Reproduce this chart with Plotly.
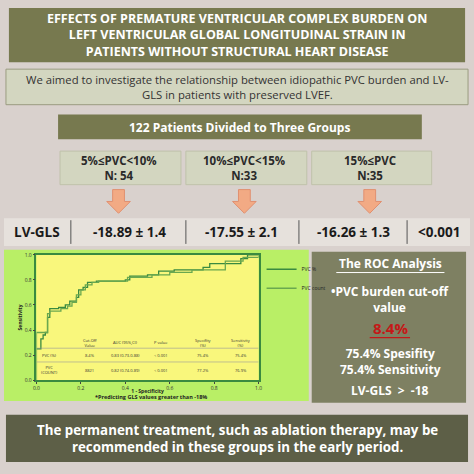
import plotly.graph_objects as go

W = H = 474

# ROC curve data
fpr_pct = [0, 0.02, 0.02, 0.03, 0.04, 0.05, 0.06, 0.09, 0.10, 0.13, 0.15, 0.18, 0.19, 0.21, 0.23, 0.27,
           0.37, 0.40, 0.42, 0.50, 0.55, 0.62, 0.75, 0.78, 0.92, 0.95, 1.0]
tpr_pct = [0.25, 0.25, 0.33, 0.36, 0.38, 0.50, 0.57, 0.57, 0.58, 0.60, 0.63, 0.66, 0.72, 0.74, 0.78, 0.79,
           0.79, 0.80, 0.83, 0.84, 0.87, 0.88, 0.90, 0.93, 0.97, 1.0, 1.0]
fpr_cnt = [0, 0.0, 0.04, 0.05, 0.05, 0.06, 0.08, 0.11, 0.14, 0.16, 0.18, 0.20, 0.22, 0.25, 0.28,
           0.38, 0.41, 0.45, 0.52, 0.60, 0.70, 0.76, 0.85, 0.93, 1.0]
tpr_cnt = [0.0, 0.38, 0.38, 0.45, 0.53, 0.55, 0.55, 0.57, 0.59, 0.62, 0.68, 0.72, 0.76, 0.78, 0.79,
           0.79, 0.82, 0.82, 0.84, 0.86, 0.88, 0.88, 0.95, 0.98, 1.0]

groups = ["5%≤PVC&lt;10%<br>N: 54", "10%≤PVC&lt;15%<br>N:33", "15%≤PVC<br>N:35"]
gls_values = ["-18.89 ± 1.4", "-17.55 ± 2.1", "-16.26 ± 1.3", "&lt;0.001"]

table_cols = ["Cut-Off<br>Value", "AUC (95%,CI)", "P value", "Specifity<br>(%)", "Sensitivity<br>(%)"]
table_rows = [["PVC (%)", "8.4%", "0.83 (0.73-0.88)", "&lt; 0.001", "75.4%", "75.4%"],
              ["PVC<br>(COUNT)", "8821", "0.82 (0.74-0.89)", "&lt; 0.001", "77.2%", "76.9%"]]

OLIVE = "#77794f"
LIGHT = "#d3d6c0"
BG = "#d9d1cd"
FONT = "Open Sans"

def px(x):
    return x / W

def py(y):
    return 1 - y / H

fig = go.Figure()
shapes = []

def box(x0, y0, x1, y1, fill, line=None, lw=0):
    shapes.append(dict(type="rect", xref="paper", yref="paper", x0=px(x0), x1=px(x1), y0=py(y1), y1=py(y0),
                       fillcolor=fill, line=dict(color=line or fill, width=lw), layer="below"))

def hline(x0, x1, y, color, w=1):
    shapes.append(dict(type="line", xref="paper", yref="paper", x0=px(x0), x1=px(x1), y0=py(y), y1=py(y),
                       line=dict(color=color, width=w)))

def text(x, y, s, size, color="white", bold=True):
    fig.add_annotation(xref="paper", yref="paper", x=px(x), y=py(y), text=f"<b>{s}</b>" if bold else s,
                       showarrow=False, font=dict(size=size, color=color, family=FONT), xanchor="center",
                       yanchor="middle")

# title
box(5, 5, 469, 60, OLIVE)
text(237, 32, "EFFECTS OF PREMATURE VENTRICULAR COMPLEX BURDEN ON<br>LEFT VENTRICULAR GLOBAL LONGITUDINAL STRAIN IN<br>PATIENTS WITHOUT STRUCTURAL HEART DISEASE", 12.5)
# aim
box(2, 67, 472, 103, LIGHT, "#9a9c80", 1)
text(237, 85, "We aimed to investigate the relationship between idiopathic PVC burden and LV-<br>GLS in patients with preserved LVEF.", 11.3, "#333333", bold=False)
# 122 patients
box(55, 113, 425, 138, OLIVE)
text(240, 126, "122 Patients Divided to Three Groups", 12)
# groups + arrows
gx = [(57, 180), (185, 308), (313, 435)]
for (a, b), g in zip(gx, groups):
    box(a, 150, b, 184, LIGHT, "#bfc2aa", 1)
    c = (a + b) / 2 - 2
    text(c, 167, g, 11.5, "#2a2a2a")
    shapes.append(dict(type="path", xref="paper", yref="paper", fillcolor="#f2aa84",
                       line=dict(color="#e09070", width=1),
                       path=f"M {px(c-6)} {py(189)} L {px(c+6)} {py(189)} L {px(c+6)} {py(201)} L {px(c+12)} {py(201)} "
                            f"L {px(c)} {py(213)} L {px(c-12)} {py(201)} L {px(c-6)} {py(201)} Z"))
# LV-GLS row
box(0, 218, 474, 246, "#e6e1dc")
text(34, 232, "LV-GLS", 13.5, "#1a1a1a")
for xs in [68, 185, 300, 410]:
    shapes.append(dict(type="line", xref="paper", yref="paper", x0=px(xs), x1=px(xs), y0=py(220), y1=py(244),
                       line=dict(color="#555555", width=1)))
for xc, v in zip([128, 242, 355, 442], gls_values):
    text(xc, 232, v, 13.5, "#1a1a1a")
# ROC panel
box(0, 250, 310, 403, "#b9ef66")
box(33, 255, 259, 382, "#f9f77c")
box(313, 252, 470, 405, "#7e8062")
text(393, 264, "The ROC Analysis", 12)
hline(338, 448, 273, "white", 1)
text(393, 300, "•PVC burden cut-off<br>value", 12)
text(393, 329, "8.4%", 15, "#c41818")
hline(372, 413, 339, "#c41818", 1.2)
text(393, 363, "75.4% Spesifity<br>75.4% Sensitivity", 12)
text(393, 392, "LV-GLS  >  -18", 12)
# conclusion
box(2, 417, 472, 465, "#5d5f47")
text(237, 441, "The permanent treatment, such as ablation therapy, may be<br>recommended in these groups in the early period.", 13.3)
text(150, 399, "*Predicting GLS values greater than -18%", 5.5, "#222222")

fig.add_trace(go.Scatter(x=fpr_pct, y=tpr_pct, mode="lines", name="PVC %", line=dict(color="#3a8a40", width=1.3, shape="hv")))
fig.add_trace(go.Scatter(x=fpr_cnt, y=tpr_cnt, mode="lines", name="PVC count", line=dict(color="#6aa84f", width=1.3, shape="hv")))

# table inside plot
cx = [0.24, 0.4, 0.56, 0.75, 0.92]
for x, c in zip(cx, table_cols):
    fig.add_annotation(x=x, y=0.3, text=c, showarrow=False, font=dict(size=4, color="#333"), xref="x", yref="y")
for r, yv in zip(table_rows, [0.2, 0.08]):
    for x, c in zip([0.06] + cx, r):
        fig.add_annotation(x=x, y=yv, text=c, showarrow=False, font=dict(size=4, color="#333"), xref="x", yref="y")
for yl in [0.255, 0.145]:
    shapes.append(dict(type="line", xref="x", yref="y", x0=0, x1=1, y0=yl, y1=yl, line=dict(color="#999", width=0.6)))

fig.update_layout(
    width=W, height=H, margin=dict(l=0, r=0, t=0, b=0),
    paper_bgcolor=BG, plot_bgcolor="#f9f77c",
    shapes=shapes,
    xaxis=dict(domain=[px(33), px(259)], range=[0, 1], dtick=0.2, tickformat=".1f", showgrid=False,
               zeroline=False, linecolor="#3a8a40", linewidth=1.5, mirror=True, ticks="outside", ticklen=2,
               tickfont=dict(size=5, color="#333"),
               title=dict(text="<b>1 - Specificity</b>", font=dict(size=5, color="#222"), standoff=0)),
    yaxis=dict(domain=[py(382), py(255)], range=[0, 1], dtick=0.2, tickformat=".1f", showgrid=False,
               zeroline=False, linecolor="#3a8a40", linewidth=1.5, mirror=True, ticks="outside", ticklen=2,
               tickfont=dict(size=5, color="#333"),
               title=dict(text="<b>Sensitivity</b>", font=dict(size=5, color="#222"), standoff=2)),
    legend=dict(x=px(262), y=py(255), xanchor="left", yanchor="top", bgcolor="rgba(0,0,0,0)",
                font=dict(size=5, color="#222"), itemwidth=30),
    font=dict(family=FONT),
)

fig.write_html("out.html", config={"displayModeBar": False}, post_script="document.body.style.margin='0';")
